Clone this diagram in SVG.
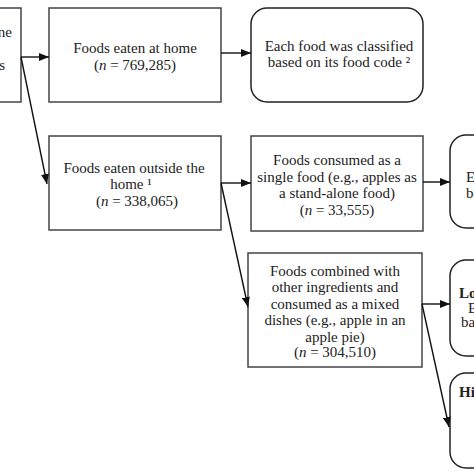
<svg xmlns="http://www.w3.org/2000/svg" width="474" height="474" viewBox="0 0 474 474">
<style>
.box{fill:#fff;stroke:#444;stroke-width:1.5}
.rbox{fill:#fff;stroke:#222;stroke-width:1.5}
text{font-family:"Liberation Serif","Times New Roman",serif;font-size:15px;fill:#222}
.c{text-anchor:middle}
.b{font-weight:bold}
.i{font-style:italic}
.con{stroke:#111;stroke-width:1.4;fill:none;marker-end:url(#ah)}
</style>
<defs>
<marker id="ah" markerUnits="userSpaceOnUse" markerWidth="10" markerHeight="8" refX="10" refY="4" orient="auto">
<path d="M0,0 L10,4 L0,8 Z" fill="#111"/>
</marker>
</defs>
<rect width="474" height="474" fill="#fff"/>
<g id="n0">
<rect class="box" x="-100" y="8" width="121" height="94"/>
<text x="12" y="37" text-anchor="end">ne</text>
<text x="5" y="70" text-anchor="end">s</text>
</g>
<g id="n1">
<rect class="box" x="49" y="8" width="172" height="94"/>
<text class="c" x="135" y="53">Foods eaten at home</text>
<text class="c" x="135" y="70">(<tspan class="i">n</tspan> = 769,285)</text>
</g>
<g id="n2">
<rect class="box" x="49" y="136" width="172" height="94"/>
<text class="c" x="134" y="173">Foods eaten outside the</text>
<text class="c" x="131" y="189">home ¹</text>
<text class="c" x="137" y="206">(<tspan class="i">n</tspan> = 338,065)</text>
</g>
<g id="n3">
<rect class="rbox" x="251" y="8" width="172" height="94" rx="16"/>
<text class="c" x="339" y="51">Each food was classified</text>
<text class="c" x="339" y="67">based on its food code ²</text>
</g>
<g id="n4">
<rect class="box" x="251" y="136" width="172" height="95"/>
<text class="c" x="337" y="165">Foods consumed as a</text>
<text class="c" x="337" y="181.5">single food (e.g., apples as</text>
<text class="c" x="337" y="198">a stand-alone food)</text>
<text class="c" x="337" y="214.5">(<tspan class="i">n</tspan> = 33,555)</text>
</g>
<g id="n5">
<rect class="box" x="248" y="253" width="174" height="114"/>
<text class="c" x="335" y="276">Foods combined with</text>
<text class="c" x="335" y="292">other ingredients and</text>
<text class="c" x="335" y="308.5">consumed as a mixed</text>
<text class="c" x="335" y="325">dishes (e.g., apple in an</text>
<text class="c" x="335" y="341.5">apple pie)</text>
<text class="c" x="335" y="357">(<tspan class="i">n</tspan> = 304,510)</text>
</g>
<g id="n6">
<rect class="rbox" x="450" y="135" width="150" height="93" rx="16"/>
<text x="466" y="182">Ea</text>
<text x="466" y="198">ba</text>
</g>
<g id="n7">
<rect class="rbox" x="450" y="260" width="150" height="96" rx="16"/>
<text class="b" x="459" y="298">Lo</text>
<text x="468" y="313">E</text>
<text x="461" y="327">ba</text>
</g>
<g id="n8">
<rect class="rbox" x="450" y="373" width="150" height="95" rx="16"/>
<text class="b" x="459" y="397">Hi</text>
</g>
<g id="connectors">
<line class="con" x1="21" y1="57" x2="49" y2="57"/>
<line class="con" x1="21" y1="57" x2="47" y2="184"/>
<line class="con" x1="221" y1="53" x2="251" y2="53"/>
<line class="con" x1="221" y1="183" x2="251" y2="183"/>
<line class="con" x1="221" y1="183" x2="248" y2="307"/>
<line class="con" x1="423" y1="182" x2="450" y2="182"/>
<line class="con" x1="422" y1="304" x2="450" y2="304"/>
<line class="con" x1="422" y1="304" x2="449" y2="427"/>
</g>
</svg>
